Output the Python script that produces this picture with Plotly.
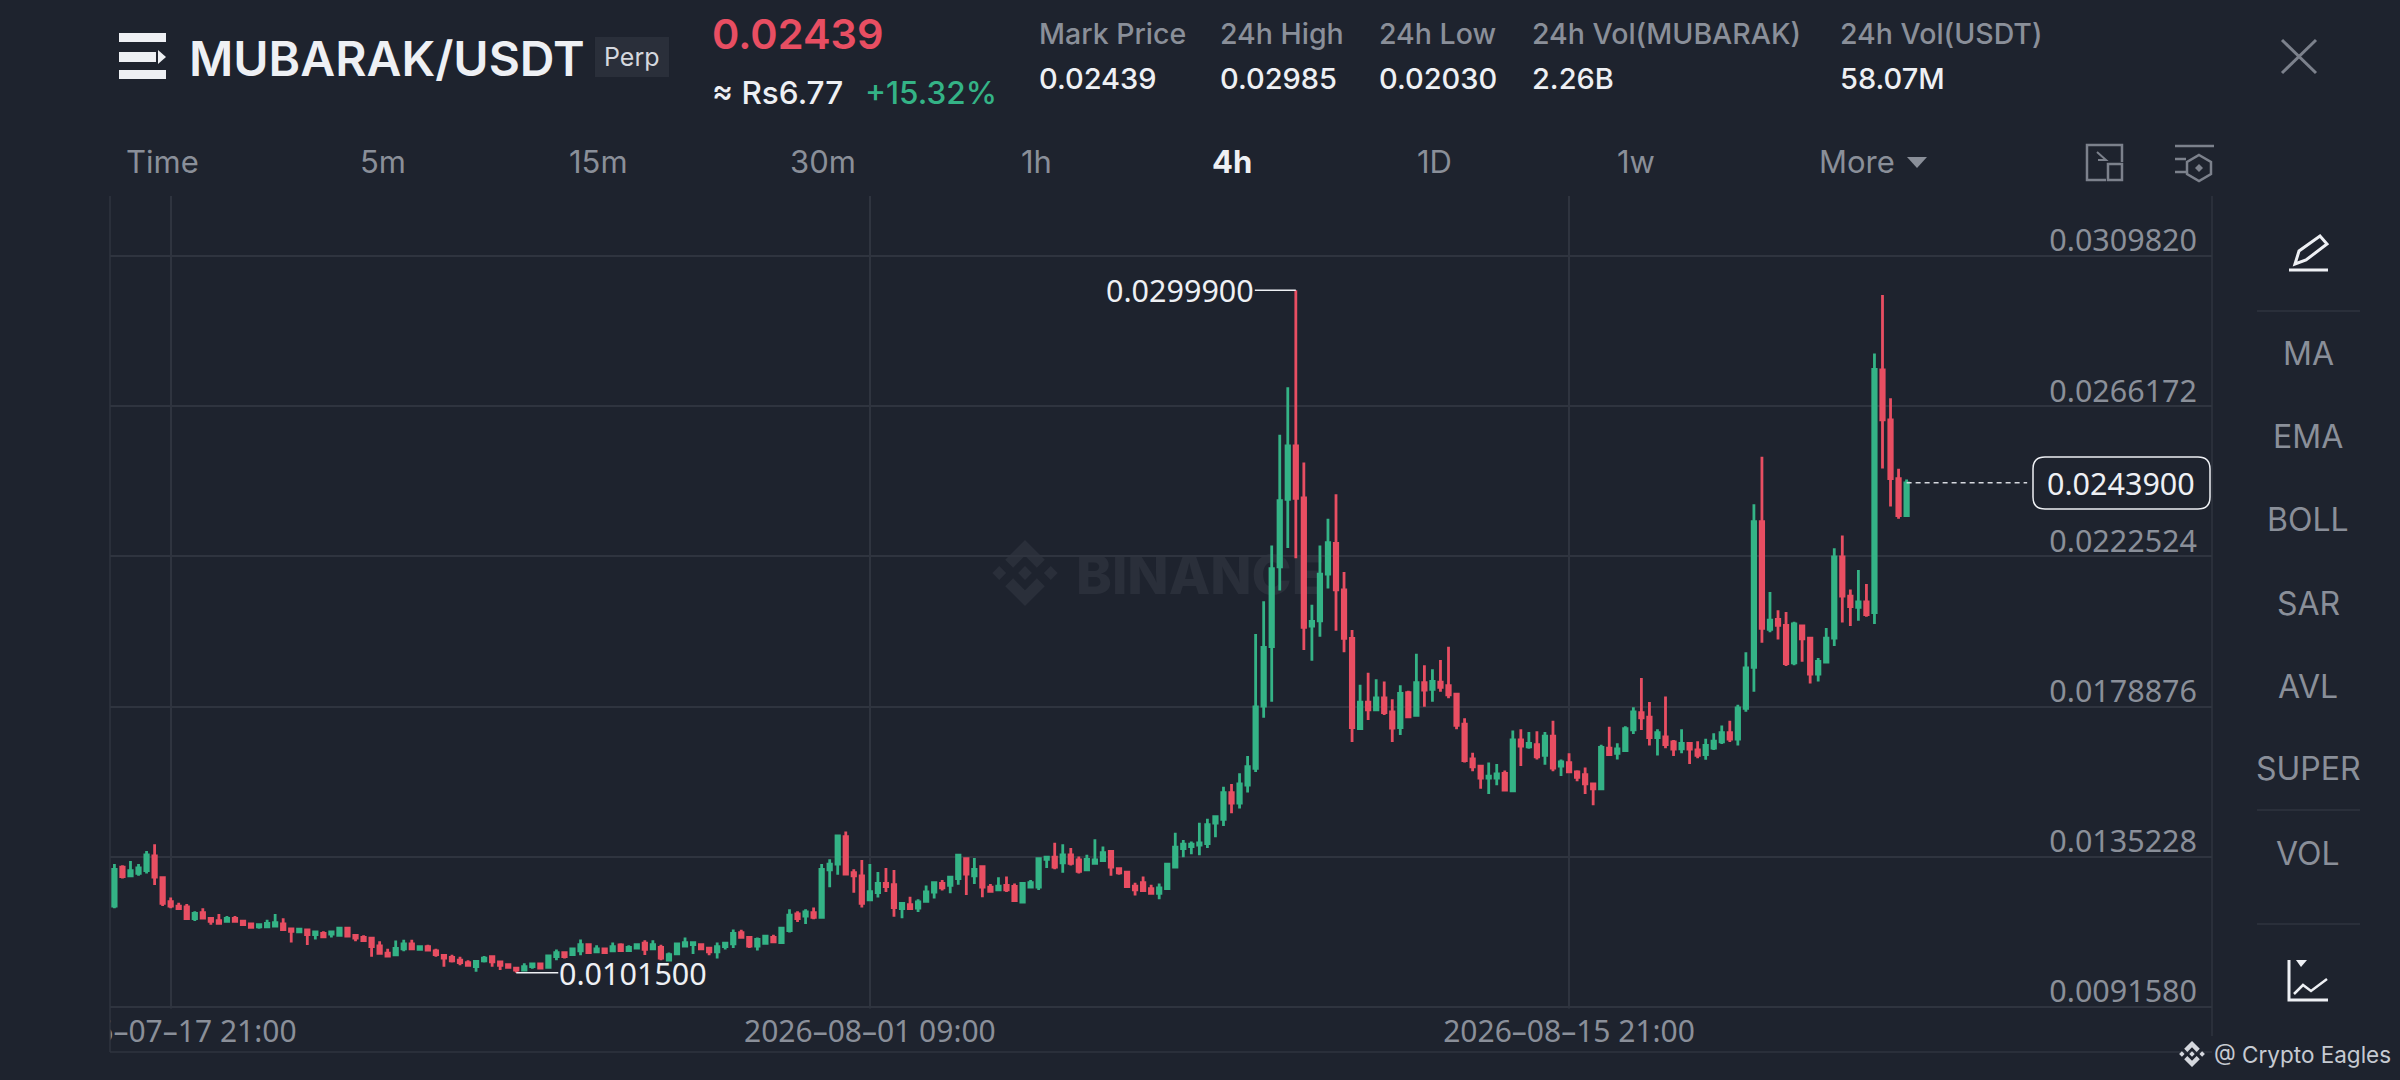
#!/usr/bin/env python3
"""MUBARAK/USDT 4h perp candles, Binance mobile chart screen"""

import pandas as pd
import plotly.graph_objects as go

# OHLC, in price ticks of 0.00001 USDT
opens = [
    1209, 1322, 1297, 1304, 1312, 1355, 1292, 1222, 1209, 1207,
    1173, 1190, 1173, 1167, 1165, 1173, 1165, 1157, 1149, 1149,
    1151, 1157, 1143, 1134, 1140, 1126, 1130, 1128, 1124, 1145,
    1124, 1118, 1116, 1093, 1072, 1067, 1085, 1099, 1083, 1091,
    1079, 1066, 1060, 1052, 1045, 1033, 1050, 1062, 1047, 1039,
    1029, 1023, 1033, 1041, 1031, 1062, 1074, 1068, 1079, 1097,
    1076, 1085, 1079, 1096, 1080, 1087, 1101, 1085, 1089, 1052,
    1070, 1093, 1097, 1097, 1087, 1076, 1091, 1099, 1132, 1118,
    1093, 1101, 1118, 1103, 1138, 1186, 1180, 1190, 1176, 1314,
    1331, 1411, 1306, 1297, 1227, 1248, 1275, 1271, 1202, 1213,
    1203, 1223, 1250, 1275, 1269, 1289, 1347, 1297, 1324, 1264,
    1256, 1269, 1266, 1221, 1264, 1264, 1345, 1351, 1335, 1358,
    1343, 1314, 1333, 1341, 1368, 1318, 1308, 1267, 1277, 1260,
    1246, 1260, 1322, 1376, 1382, 1386, 1391, 1450, 1461, 1539,
    1508, 1561, 1609, 1790, 1963, 2195, 2391, 2546, 2395, 2023,
    2038, 2174, 2263, 2128, 1987, 1725, 1802, 1779, 1814, 1773,
    1728, 1829, 1763, 1858, 1839, 1860, 1850, 1825, 1738, 1637,
    1616, 1581, 1581, 1595, 1544, 1692, 1672, 1678, 1647, 1703,
    1616, 1626, 1599, 1591, 1564, 1550, 1668, 1653, 1661, 1721,
    1771, 1758, 1699, 1701, 1686, 1666, 1682, 1663, 1649, 1668,
    1686, 1713, 1694, 1784, 1903, 2326, 2013, 2042, 2025, 1916,
    2023, 1988, 1883, 1918, 1988, 2224, 2110, 2077, 2093, 2062,
    2767, 2622, 2451, 2344,
]
highs = [
    1331, 1328, 1340, 1331, 1369, 1389, 1292, 1234, 1219, 1215,
    1194, 1203, 1176, 1186, 1180, 1180, 1167, 1159, 1155, 1169,
    1186, 1174, 1143, 1145, 1143, 1136, 1136, 1136, 1147, 1147,
    1126, 1124, 1120, 1107, 1085, 1109, 1111, 1111, 1091, 1097,
    1085, 1070, 1068, 1062, 1052, 1050, 1064, 1064, 1050, 1041,
    1031, 1043, 1043, 1045, 1068, 1083, 1078, 1089, 1112, 1099,
    1095, 1089, 1103, 1101, 1095, 1099, 1110, 1110, 1097, 1074,
    1103, 1118, 1107, 1099, 1091, 1103, 1101, 1141, 1140, 1120,
    1118, 1126, 1126, 1149, 1200, 1194, 1200, 1205, 1331, 1345,
    1416, 1426, 1316, 1343, 1331, 1308, 1320, 1314, 1219, 1236,
    1229, 1269, 1281, 1285, 1295, 1360, 1349, 1349, 1327, 1273,
    1293, 1295, 1275, 1279, 1285, 1351, 1353, 1393, 1389, 1378,
    1353, 1358, 1403, 1382, 1370, 1320, 1308, 1277, 1295, 1271,
    1275, 1335, 1422, 1401, 1397, 1451, 1463, 1471, 1556, 1564,
    1595, 1645, 2000, 2095, 2257, 2579, 2717, 2999, 2498, 2085,
    2257, 2335, 2406, 2180, 2011, 1852, 1887, 1868, 1862, 1810,
    1851, 1835, 1942, 1909, 1897, 1924, 1963, 1829, 1755, 1655,
    1620, 1626, 1622, 1603, 1719, 1723, 1715, 1717, 1715, 1748,
    1635, 1653, 1604, 1612, 1568, 1678, 1730, 1682, 1732, 1787,
    1872, 1802, 1723, 1818, 1692, 1723, 1684, 1688, 1695, 1711,
    1734, 1748, 1794, 1947, 2377, 2515, 2122, 2069, 2064, 2035,
    2025, 1988, 1930, 2017, 2249, 2286, 2129, 2186, 2145, 2815,
    2985, 2685, 2480, 2449,
]
lows = [
    1203, 1289, 1295, 1297, 1304, 1270, 1209, 1203, 1202, 1172,
    1166, 1172, 1155, 1155, 1165, 1164, 1153, 1144, 1143, 1147,
    1149, 1140, 1103, 1130, 1096, 1112, 1120, 1118, 1122, 1118,
    1107, 1106, 1062, 1070, 1062, 1067, 1078, 1081, 1081, 1077,
    1062, 1033, 1045, 1037, 1033, 1018, 1045, 1033, 1023, 1028,
    1015, 1019, 1027, 1025, 1029, 1052, 1057, 1066, 1066, 1072,
    1074, 1072, 1078, 1076, 1080, 1085, 1067, 1081, 1052, 1052,
    1068, 1089, 1070, 1081, 1066, 1057, 1083, 1087, 1114, 1087,
    1080, 1097, 1103, 1101, 1132, 1163, 1157, 1171, 1174, 1264,
    1300, 1302, 1248, 1205, 1225, 1234, 1250, 1178, 1174, 1198,
    1192, 1221, 1231, 1254, 1246, 1271, 1241, 1273, 1235, 1252,
    1254, 1250, 1221, 1217, 1260, 1256, 1320, 1316, 1306, 1327,
    1304, 1312, 1331, 1337, 1297, 1300, 1262, 1240, 1252, 1244,
    1229, 1258, 1320, 1351, 1360, 1357, 1378, 1409, 1442, 1479,
    1493, 1539, 1599, 1756, 1803, 2126, 2250, 2220, 1953, 1922,
    1992, 2132, 2009, 1947, 1686, 1721, 1750, 1777, 1764, 1686,
    1706, 1757, 1761, 1788, 1803, 1832, 1813, 1723, 1626, 1601,
    1550, 1535, 1560, 1544, 1541, 1616, 1666, 1635, 1620, 1601,
    1587, 1595, 1572, 1535, 1502, 1548, 1645, 1635, 1657, 1709,
    1721, 1676, 1647, 1668, 1645, 1653, 1622, 1639, 1634, 1663,
    1680, 1686, 1676, 1774, 1832, 1974, 2005, 1984, 1907, 1909,
    1919, 1856, 1862, 1916, 1965, 2033, 2023, 2038, 2050, 2029,
    2481, 2370, 2335, 2343,
]
closes = [
    1316, 1295, 1312, 1320, 1358, 1293, 1217, 1209, 1202, 1173,
    1188, 1174, 1165, 1159, 1173, 1165, 1155, 1147, 1155, 1159,
    1161, 1141, 1136, 1142, 1126, 1134, 1120, 1134, 1145, 1122,
    1116, 1109, 1091, 1072, 1064, 1086, 1099, 1085, 1091, 1081,
    1068, 1058, 1050, 1045, 1037, 1048, 1058, 1047, 1037, 1031,
    1023, 1033, 1041, 1029, 1064, 1074, 1062, 1085, 1097, 1074,
    1085, 1074, 1091, 1080, 1089, 1097, 1083, 1097, 1058, 1068,
    1099, 1103, 1103, 1085, 1076, 1091, 1101, 1130, 1118, 1093,
    1112, 1122, 1105, 1145, 1183, 1173, 1192, 1176, 1316, 1331,
    1413, 1302, 1297, 1217, 1251, 1275, 1266, 1205, 1217, 1202,
    1221, 1250, 1277, 1262, 1293, 1357, 1302, 1316, 1264, 1252,
    1267, 1256, 1225, 1275, 1277, 1347, 1351, 1322, 1358, 1333,
    1310, 1345, 1343, 1364, 1322, 1306, 1266, 1256, 1254, 1246,
    1262, 1331, 1380, 1389, 1389, 1393, 1446, 1469, 1539, 1508,
    1564, 1614, 1788, 1961, 2190, 2387, 2546, 2394, 2019, 2036,
    2174, 2265, 2128, 1987, 1728, 1802, 1779, 1814, 1771, 1726,
    1827, 1759, 1858, 1837, 1862, 1845, 1823, 1734, 1632, 1614,
    1581, 1587, 1593, 1546, 1692, 1674, 1682, 1643, 1703, 1610,
    1628, 1599, 1583, 1564, 1550, 1670, 1649, 1666, 1725, 1773,
    1756, 1699, 1713, 1678, 1665, 1682, 1665, 1647, 1676, 1688,
    1713, 1694, 1785, 1901, 2326, 2016, 2040, 2025, 1914, 2029,
    1986, 1883, 1920, 1988, 2224, 2110, 2079, 2093, 2056, 2769,
    2622, 2451, 2344, 2439,
]

times = pd.date_range("2026-07-16 17:00", periods=len(closes), freq="4h")
price_ticks = [0.0091580, 0.0135228, 0.0178876, 0.0222524, 0.0266172, 0.0309820]
date_ticks = ["2026-07-17 21:00", "2026-08-01 09:00", "2026-08-15 21:00"]

stats = [
    ("Mark Price", "0.02439", 1037),
    ("24h High", "0.02985", 1218),
    ("24h Low", "0.02030", 1377),
    ("24h Vol(MUBARAK)", "2.26B", 1530),
    ("24h Vol(USDT)", "58.07M", 1838),
]
tabs = [("Time", 162), ("5m", 383), ("15m", 598), ("30m", 823), ("1h", 1036),
        ("1D", 1434), ("1w", 1636), ("More", 1857)]
indicators = [("MA", 354), ("EMA", 436), ("BOLL", 519), ("SAR", 603),
              ("AVL", 686), ("SUPER", 768), ("VOL", 853)]

BG = "#1e232e"
GRID = "#2f343f"
GREEN = "#34b386"
RED = "#e84e62"
GREY = "#8a8f99"
WHITE = "#eef0f4"
FONT = "Inter"
NUM_FONT = "Noto Sans"  # tabular digits, same width on every price label

# plot area in screen pixels, everything around it is placed relative to this
# bottom runs 7px past the lowest gridline, otherwise its shifted label gets dropped
LEFT, RIGHT, TOP, BOTTOM = 110, 2212, 196, 1014


def X(px):
    return (px - LEFT) / (RIGHT - LEFT)


def Y(py):
    return (BOTTOM - py) / (BOTTOM - TOP)


annotations = []
shapes = []


def text(x, y, s, size, color, anchor="left", weight=400, family=FONT):
    annotations.append(dict(
        x=X(x), y=Y(y), xref="paper", yref="paper", text=s, showarrow=False,
        xanchor=anchor, yanchor="middle",
        font=dict(family=family, size=size, color=color, weight=weight),
    ))


def line(x0, y0, x1, y1, color=GRID, width=1.5):
    shapes.append(dict(
        type="line", xref="paper", yref="paper",
        x0=X(x0), y0=Y(y0), x1=X(x1), y1=Y(y1),
        line=dict(color=color, width=width),
    ))


def poly(points, fill=None, color=None, width=0, close=True, layer="above"):
    path = "M " + " L ".join(f"{X(a):.5f},{Y(b):.5f}" for a, b in points)
    if close:
        path += " Z"
    shapes.append(dict(
        type="path", xref="paper", yref="paper", path=path, layer=layer,
        fillcolor=fill if fill else "rgba(0,0,0,0)",
        line=dict(color=color if color else "rgba(0,0,0,0)", width=width),
    ))


def rect(x0, y0, x1, y1, fill, layer="above"):
    poly([(x0, y0), (x1, y0), (x1, y1), (x0, y1)], fill=fill, layer=layer)


def binance_logo(cx, cy, r, fill, layer="above"):
    for dx in (-0.78, 0, 0.78):
        s = 0.21
        poly([(cx + (dx - s) * r, cy), (cx + dx * r, cy - s * r),
              (cx + (dx + s) * r, cy), (cx + dx * r, cy + s * r)], fill=fill, layer=layer)
    for sign in (-1, 1):
        poly([(cx, cy + sign * r), (cx + 0.6 * r, cy + sign * 0.4 * r),
              (cx + 0.36 * r, cy + sign * 0.16 * r), (cx, cy + sign * 0.52 * r),
              (cx - 0.36 * r, cy + sign * 0.16 * r), (cx - 0.6 * r, cy + sign * 0.4 * r)],
             fill=fill, layer=layer)


fig = go.Figure()
fig.add_trace(go.Candlestick(
    x=times,
    open=[v * 1e-5 for v in opens],
    high=[v * 1e-5 for v in highs],
    low=[v * 1e-5 for v in lows],
    close=[v * 1e-5 for v in closes],
    increasing=dict(line=dict(color=GREEN, width=2.8), fillcolor=GREEN),
    decreasing=dict(line=dict(color=RED, width=2.8), fillcolor=RED),
    whiskerwidth=0,
    showlegend=False,
))

# watermark sits under the candles and grid
shapes.append(dict(
    type="rect", xref="paper", yref="paper", layer="below",
    x0=X(1070), x1=X(1330), y0=Y(595), y1=Y(550),
    fillcolor="rgba(0,0,0,0)", line=dict(width=0),
    label=dict(text="BINANCE", textposition="middle left",
               font=dict(family=FONT, size=54, color="#2a2f3a", weight=800)),
))
binance_logo(1025, 573, 33, "#2a2f3a", layer="below")

# hide the start of the first date label, the chart clips it at its left edge
rect(0, 1009, LEFT, 1052, BG)
# vertical gridlines stop at the lowest price line
rect(LEFT, 1008.5, RIGHT, 1016, BG)

# chart frame
line(LEFT, TOP, LEFT, 1052)
line(RIGHT, TOP, RIGHT, 1036)
line(LEFT, 1052, RIGHT, 1052)

# header
rect(119, 33, 166, 42, WHITE)
rect(119, 52, 156, 62, WHITE)
poly([(158, 50), (166, 57), (158, 64)], fill=WHITE)
rect(119, 70, 166, 79, WHITE)
text(187, 58, "MUBARAK/USDT", 48, WHITE, weight=600)
rect(595, 37, 669, 77, "#2a2f3a")
text(632, 57, "Perp", 25, "#d5d8de", anchor="center")
text(710, 34, "0.02439", 41.5, RED, weight=600)
text(710, 92, "≈ Rs6.77", 31.5, WHITE, weight=500)
text(863, 92, "+15.32%", 31.5, GREEN, weight=500)
for label, value, x in stats:
    text(x, 34, label, 28.5, GREY, weight=500)
    text(x, 79, value, 29, WHITE, weight=500)
line(2282, 40, 2316, 73, color="#7c818c", width=3)
line(2316, 40, 2282, 73, color="#7c818c", width=3)

# timeframe row
for label, x in tabs:
    text(x, 162, label, 31, GREY, anchor="center")
text(1232, 162, "4h", 31, WHITE, anchor="center", weight=700)
poly([(1907, 157), (1927, 157), (1917, 168)], fill=GREY)

# the two icons at the end of the timeframe row
poly([(2122, 162), (2122, 145), (2087, 145), (2087, 180), (2106, 180)], color="#7c818c", width=2.5, close=False)
poly([(2108, 164), (2122, 164), (2122, 180), (2108, 180)], color="#7c818c", width=2.5)
poly([(2097, 152), (2106, 160), (2098, 160)], color="#7c818c", width=2, close=False)
line(2175, 146, 2214, 146, color="#7c818c", width=2.5)
line(2175, 159, 2186, 159, color="#7c818c", width=2.5)
line(2175, 172, 2186, 172, color="#7c818c", width=2.5)
poly([(2199, 155), (2211, 162), (2211, 174), (2199, 181), (2187, 174), (2187, 162)], color="#7c818c", width=2.5)
poly([(2199, 164), (2203, 168), (2199, 172), (2195, 168)], fill="#7c818c")

# indicator column
for label, y in indicators:
    text(2308, y, label, 32, GREY, anchor="center")
line(2257, 311, 2360, 311)
line(2257, 810, 2360, 810)
line(2257, 924, 2360, 924)
poly([(2295, 264), (2299, 251), (2320, 236), (2327, 244), (2306, 260)], color=WHITE, width=3)
line(2289, 270, 2328, 270, color=WHITE, width=3)
poly([(2289, 960), (2289, 1000), (2328, 1000)], color=WHITE, width=3, close=False)
poly([(2294, 994), (2303, 985), (2311, 991), (2327, 979)], color=WHITE, width=2.5, close=False)
poly([(2296, 960), (2307, 960), (2301, 967)], fill=WHITE)

# footer credit
binance_logo(2192, 1054, 13, "#d5d8de")
text(2212, 1054, "@ Crypto Eagles", 22.5, "#c6cad1")

# last price: dashed guide and rounded tag
last_price = closes[-1] * 1e-5
shapes.append(dict(
    type="line", xref="x", yref="y",
    x0=times[-1], x1=times[-1] + pd.Timedelta(hours=60), y0=last_price, y1=last_price,
    line=dict(color="#d5d8de", width=1.5, dash="5px,4px"),
))
x0, x1, y0, y1, r = X(2033), X(2210), Y(457), Y(509), 12
rx, ry = r / (RIGHT - LEFT), r / (BOTTOM - TOP)
shapes.append(dict(
    type="path", xref="paper", yref="paper", fillcolor=BG,
    line=dict(color=WHITE, width=1.5),
    path=(f"M {x0 + rx},{y0} L {x1 - rx},{y0} Q {x1},{y0} {x1},{y0 - ry} "
          f"L {x1},{y1 + ry} Q {x1},{y1} {x1 - rx},{y1} L {x0 + rx},{y1} "
          f"Q {x0},{y1} {x0},{y1 + ry} L {x0},{y0 - ry} Q {x0},{y0} {x0 + rx},{y0} Z"),
))
text(2197, 483, f"{last_price:.7f}", 30.5, WHITE, anchor="right", family=NUM_FONT)

# extreme price callouts
hi = highs.index(max(highs))
lo = lows.index(min(lows))
annotations.append(dict(
    x=times[hi], y=highs[hi] * 1e-5, xref="x", yref="y", ax=-41, ay=0,
    text=f"{highs[hi] * 1e-5:.7f}", xanchor="right", arrowhead=0, arrowwidth=1.5,
    arrowcolor=WHITE, standoff=0, borderpad=0, font=dict(family=NUM_FONT, size=30.5, color=WHITE),
))
annotations.append(dict(
    x=times[lo], y=lows[lo] * 1e-5, xref="x", yref="y", ax=42, ay=0,
    text=f"{lows[lo] * 1e-5:.7f}", xanchor="left", arrowhead=0, arrowwidth=1.5,
    arrowcolor=WHITE, standoff=0, borderpad=0, font=dict(family=NUM_FONT, size=30.5, color=WHITE),
))

fig.update_layout(
    width=2400,
    height=1080,
    paper_bgcolor=BG,
    plot_bgcolor=BG,
    margin=dict(l=LEFT, r=2400 - RIGHT, t=TOP, b=1080 - BOTTOM, autoexpand=False),
    boxgap=0.5,
    boxgroupgap=0.15,
    showlegend=False,
    annotations=annotations,
    shapes=shapes,
    xaxis=dict(
        type="date",
        range=["2026-07-16 14:48", "2026-08-29 05:00"],
        rangeslider=dict(visible=False),
        tickvals=date_ticks,
        tickformat="%Y–%m–%d %H:%M",
        ticks="",
        ticklabelstandoff=-3,
        tickfont=dict(family=NUM_FONT, size=30, color=GREY),
        showgrid=True,
        gridcolor=GRID,
        gridwidth=1.5,
        zeroline=False,
    ),
    yaxis=dict(
        side="right",
        anchor="free",
        position=0.9943,
        range=[0.0089546, 0.0327256],
        tickvals=price_ticks,
        tickformat=".7f",
        ticklabelposition="inside top",
        ticklabelshift=6,
        ticks="",
        tickfont=dict(family=NUM_FONT, size=30.5, color=GREY),
        showgrid=True,
        gridcolor=GRID,
        gridwidth=1.5,
        zeroline=False,
    ),
)

# the page's default body margin would push the screen off by 8px
fig.write_html(
    "out.html",
    config=dict(displayModeBar=False),
    post_script="document.body.style.margin='0';document.body.style.overflow='hidden';",
)
